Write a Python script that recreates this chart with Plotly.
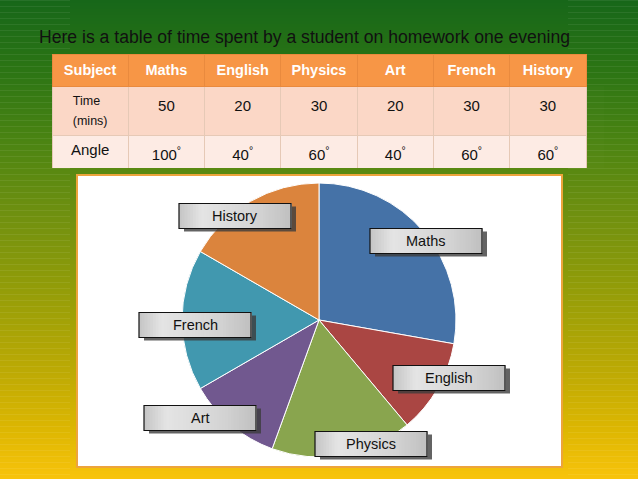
import plotly.graph_objects as go

W, H = 638, 479

subjects = ["Maths", "English", "Physics", "Art", "French", "History"]
times = [50, 20, 30, 20, 30, 30]
angles = [100, 40, 60, 40, 60, 60]
slice_colors = ["#4572A7", "#AA4643", "#89A54E", "#71588F", "#4198AF", "#DB843D"]

title = "Here is a table of time spent by a student on homework one evening"

# label box centres in pixels (styling for the call-out boxes)
label_pos = {"History": (235, 216), "Maths": (426, 241), "French": (195, 325),
             "English": (449, 378), "Art": (200, 418), "Physics": (371, 444)}


def px(x):
    return x / W


def py(y):
    return 1 - y / H


def mix(c1, c2, t):
    a = [int(c1[i:i + 2], 16) for i in (1, 3, 5)]
    b = [int(c2[i:i + 2], 16) for i in (1, 3, 5)]
    return "#" + "".join("%02x" % round(a[i] + (b[i] - a[i]) * t) for i in range(3))


shapes = []

# background gradient green -> yellow
stops = [(0, "#176719"), (70, "#2C7514"), (140, "#4B8412"), (210, "#6E9010"),
         (290, "#949D08"), (370, "#BDAA04"), (430, "#DEB702"), (479, "#F9C40C")]
step = 3
for y in range(0, H, step):
    for (y0, c0), (y1, c1) in zip(stops, stops[1:]):
        if y0 <= y <= y1:
            col = mix(c0, c1, (y - y0) / (y1 - y0))
            break
    shapes.append(dict(type="rect", xref="paper", yref="paper", layer="below",
                       x0=0, x1=1, y0=py(y + step + 0.5), y1=py(y),
                       fillcolor=col, line_width=0))
    # faint stripe texture near the side edges
    if y % 6 == 0:
        for a, b in ((0, 70), (568, 638)):
            shapes.append(dict(type="rect", xref="paper", yref="paper", layer="below",
                               x0=px(a), x1=px(b), y0=py(y + 1), y1=py(y),
                               fillcolor="rgba(255,255,255,0.07)", line_width=0))

# white chart panel
shapes.append(dict(type="rect", xref="paper", yref="paper", layer="below",
                   x0=px(77), x1=px(562), y0=py(467), y1=py(175),
                   fillcolor="white", line=dict(color="#EDA43C", width=2)))

annotations = [dict(text=title, x=px(37), y=py(37), xref="paper", yref="paper",
                    xanchor="left", yanchor="middle", showarrow=False,
                    font=dict(family="Liberation Sans", size=17.6, color="#111111"))]

# boxed labels with shadow and grey gradient
bw, bh = 112, 25
grad = [(0, "#C4C4C4"), (0.2, "#E4E4E4"), (0.7, "#D4D4D4"), (1, "#C0C0C0")]
n = 40
for name in subjects:
    cx, cy = label_pos[name]
    x0, y0 = cx - bw / 2, cy - bh / 2
    shapes.append(dict(type="rect", xref="paper", yref="paper", layer="above",
                       x0=px(x0 + 5), x1=px(x0 + bw + 5), y0=py(y0 + bh + 3), y1=py(y0 + 3),
                       fillcolor="rgba(60,60,60,0.8)", line_width=0))
    for i in range(n):
        t = (i + 0.5) / n
        for (t0, c0), (t1, c1) in zip(grad, grad[1:]):
            if t0 <= t <= t1:
                col = mix(c0, c1, (t - t0) / (t1 - t0))
                break
        shapes.append(dict(type="rect", xref="paper", yref="paper", layer="above",
                           x0=px(x0 + bw * i / n), x1=px(x0 + bw * (i + 1) / n + 1),
                           y0=py(y0 + bh), y1=py(y0), fillcolor=col, line_width=0))
    shapes.append(dict(type="rect", xref="paper", yref="paper", layer="above",
                       x0=px(x0), x1=px(x0 + bw), y0=py(y0 + bh), y1=py(y0),
                       line=dict(color="#111111", width=1.2)))
    annotations.append(dict(text=name, x=px(cx), y=py(cy), xref="paper", yref="paper",
                            xanchor="center", yanchor="middle", showarrow=False,
                            font=dict(family="Liberation Sans", size=14.5, color="#111111")))

fig = go.Figure()

fig.add_trace(go.Pie(labels=subjects, values=times, sort=False, direction="clockwise",
                     rotation=0, textinfo="none", showlegend=False,
                     marker=dict(colors=slice_colors, line=dict(color="white", width=1)),
                     domain=dict(x=[px(182), px(456)], y=[py(457), py(183)])))

header_vals = ["<b>Subject</b>"] + ["<b>%s</b>" % s for s in subjects]
small = "<span style='font-size:12.5px'>%s</span>"
big = "<span style='font-size:15px'>%s</span>"
# the <br> keeps plotly from word-wrapping the span markup
cell_cols = [[small % "Time" + "<br>" + small % "(mins)", "Angle"]] + \
            [["<br><br>" + big % t, "<br>" + big % ("%d<sup>°</sup>" % a)] for t, a in zip(times, angles)]

fig.add_trace(go.Table(
    domain=dict(x=[px(52), px(586)], y=[py(168), py(54)]),
    columnwidth=[1] * 7,
    header=dict(values=header_vals, fill_color="#F79646", height=31,
                line=dict(color="#E98A3E", width=1), align="center",
                font=dict(family="Liberation Sans", size=14.5, color="white")),
    cells=dict(values=cell_cols, fill_color=[["#FBD7C6", "#FDEBE4"]], height=35,
               line=dict(color="#E6C9B6", width=1), align="center",
               font=dict(family="Liberation Sans", size=[15] + [6.6] * 6, color="#111111")),
))

fig.update_layout(width=W, height=H, margin=dict(l=0, r=0, t=0, b=0),
                  paper_bgcolor="#6E9010", plot_bgcolor="rgba(0,0,0,0)",
                  shapes=shapes, annotations=annotations)

fig.write_html("out.html", config={"displayModeBar": False},
               post_script="document.body.style.margin='0';")
